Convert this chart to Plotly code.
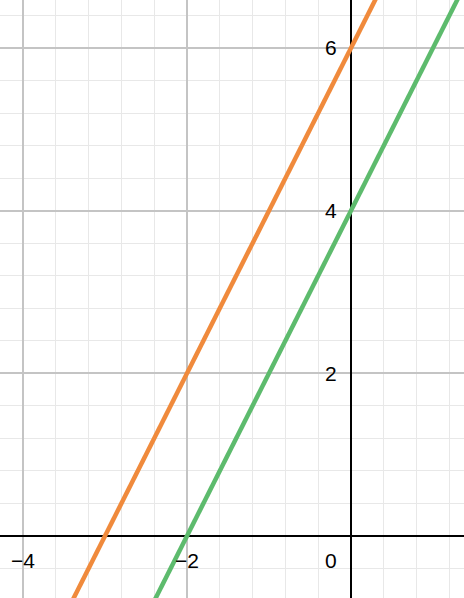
import plotly.graph_objects as go

# two parallel lines, slope 2
x_vals = [-5, 2]
orange_y = [-4, 10]   # y = 2x + 6
green_y = [-6, 8]     # y = 2x + 4

x_ticks = [-4, -2]
y_ticks = [2, 4, 6]

fig = go.Figure()
fig.add_trace(go.Scatter(x=x_vals, y=orange_y, mode="lines",
                         line=dict(color="#F08A3C", width=4.5), hoverinfo="skip"))
fig.add_trace(go.Scatter(x=x_vals, y=green_y, mode="lines",
                         line=dict(color="#5DBB6D", width=4.5), hoverinfo="skip"))

lab_font = dict(family="Liberation Sans, Arial", size=21, color="black")
for t in x_ticks:
    fig.add_annotation(x=t, y=0, text="\u2212" + str(abs(t)), showarrow=False,
                       yanchor="top", yshift=-11, font=lab_font)
for t in y_ticks:
    fig.add_annotation(x=0, y=t, text=str(t), showarrow=False,
                       xanchor="right", xshift=-12, font=lab_font)
fig.add_annotation(x=0, y=0, text="0", showarrow=False, xanchor="right",
                   yanchor="top", xshift=-12, yshift=-11, font=lab_font)

axis_common = dict(showticklabels=False, ticks="", showline=False,
                   zeroline=True, zerolinecolor="black", zerolinewidth=2,
                   showgrid=True, gridcolor="#c4c4c4", gridwidth=1.5,
                   dtick=2, tick0=0,
                   minor=dict(dtick=0.4, tick0=0, showgrid=True,
                              gridcolor="#e8e8e8", gridwidth=1.2))
fig.update_xaxes(range=[-4.28, 1.378], **axis_common)
fig.update_yaxes(range=[-0.762, 6.59], **axis_common)

fig.update_layout(width=464, height=598, margin=dict(l=0, r=0, t=0, b=0),
                  plot_bgcolor="white", paper_bgcolor="white", showlegend=False)
fig.write_html("out.html", config={"displayModeBar": False},
               post_script="document.body.style.margin='0';document.body.style.overflow='hidden';")
